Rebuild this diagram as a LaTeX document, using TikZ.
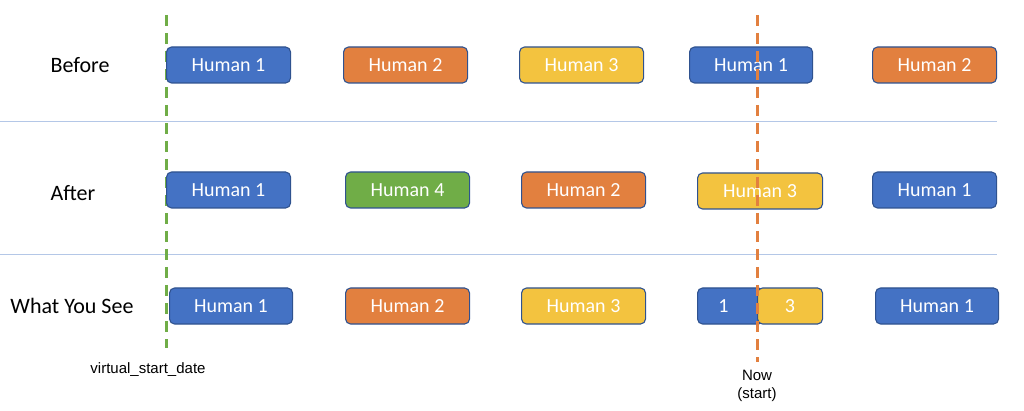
\documentclass[tikz,border=0pt]{standalone}
\usepackage{fontspec}
\setmainfont{Carlito}
\newfontfamily\arialf{Liberation Sans}
\definecolor{cblue}{HTML}{4472C4}
\definecolor{corange}{HTML}{E2803F}
\definecolor{cyellow}{HTML}{F3C33F}
\definecolor{cgreen}{HTML}{70AD47}
\definecolor{cborder}{HTML}{2F528F}
\definecolor{csep}{HTML}{B4C7E7}
\definecolor{cvline}{HTML}{E2803F}
\tikzset{
  bar/.style={draw=cborder, line width=1.1pt, rounded corners=5pt, minimum height=36pt, inner sep=0pt,
    text=white, font=\fontsize{20}{20}\selectfont, anchor=west},
  rowlabel/.style={font=\fontsize{22}{22}\selectfont, text=black},
  small/.style={font=\arialf\fontsize{15}{18}\selectfont, align=center},
  vline/.style={line width=3pt, dash pattern=on 11pt off 7pt},
  sep/.style={draw=csep, line width=1pt}
}
\begin{document}
\begin{tikzpicture}[x=1pt,y=-1pt]
\useasboundingbox (0,0) rectangle (1024,411);
% separators
\coordinate (s1a) at (0,122); \coordinate (s1b) at (997,122);
\coordinate (s2a) at (0,255); \coordinate (s2b) at (997,255);
\draw[sep] (s1a) -- (s1b);
\draw[sep] (s2a) -- (s2b);
% green dashed line (behind boxes)
\coordinate (g1) at (166,15); \coordinate (g2) at (166,348);
\draw[vline, draw=cgreen] (g1) -- (g2);
% row labels
\node[rowlabel] (lb) at (80,65) {Before};
\node[rowlabel] (la) at (73,193) {After};
\node[rowlabel] (lw) at (72,306) {What You See};
% row 1
\node[bar, fill=cblue, minimum width=124pt] (b1) at (166,65) {Human 1};
\node[bar, fill=corange, minimum width=124pt] (b2) at (343,65) {Human 2};
\node[bar, fill=cyellow, minimum width=124pt] (b3) at (519,65) {Human 3};
\node[bar, fill=cblue, minimum width=123pt] (b4) at (689,65) {Human 1};
\node[bar, fill=corange, minimum width=124pt] (b5) at (872,65) {Human 2};
% row 2
\node[bar, fill=cblue, minimum width=124pt] (a1) at (166,190) {Human 1};
\node[bar, fill=cgreen, minimum width=124pt] (a2) at (345,190) {Human 4};
\node[bar, fill=corange, minimum width=124pt] (a3) at (521,190) {Human 2};
\node[bar, fill=cyellow, minimum width=125pt] (a4) at (697,191) {Human 3};
\node[bar, fill=cblue, minimum width=124pt] (a5) at (872,190) {Human 1};
% row 3
\node[bar, fill=cblue, minimum width=123pt] (w1) at (169,306) {Human 1};
\node[bar, fill=corange, minimum width=124pt] (w2) at (345,306) {Human 2};
\node[bar, fill=cyellow, minimum width=124pt] (w3) at (521,306) {Human 3};
\node[bar, fill=cblue, minimum width=66pt] (w4) at (697,306) {\makebox[52pt]{1}\hspace*{14pt}};
\node[bar, fill=cyellow, minimum width=65pt] (w5) at (757,306) {3};
\node[bar, fill=cblue, minimum width=123pt] (w6) at (875,306) {Human 1};
% orange dashed line (over boxes)
\coordinate (o1) at (757,15); \coordinate (o2) at (757,362);
\draw[vline, draw=cvline] (o1) -- (o2);
% bottom labels
\node[small] (vsd) at (148,370) {virtual\_start\_date};
\node[small] (now) at (757,386) {Now\\(start)};
\end{tikzpicture}
\end{document}
